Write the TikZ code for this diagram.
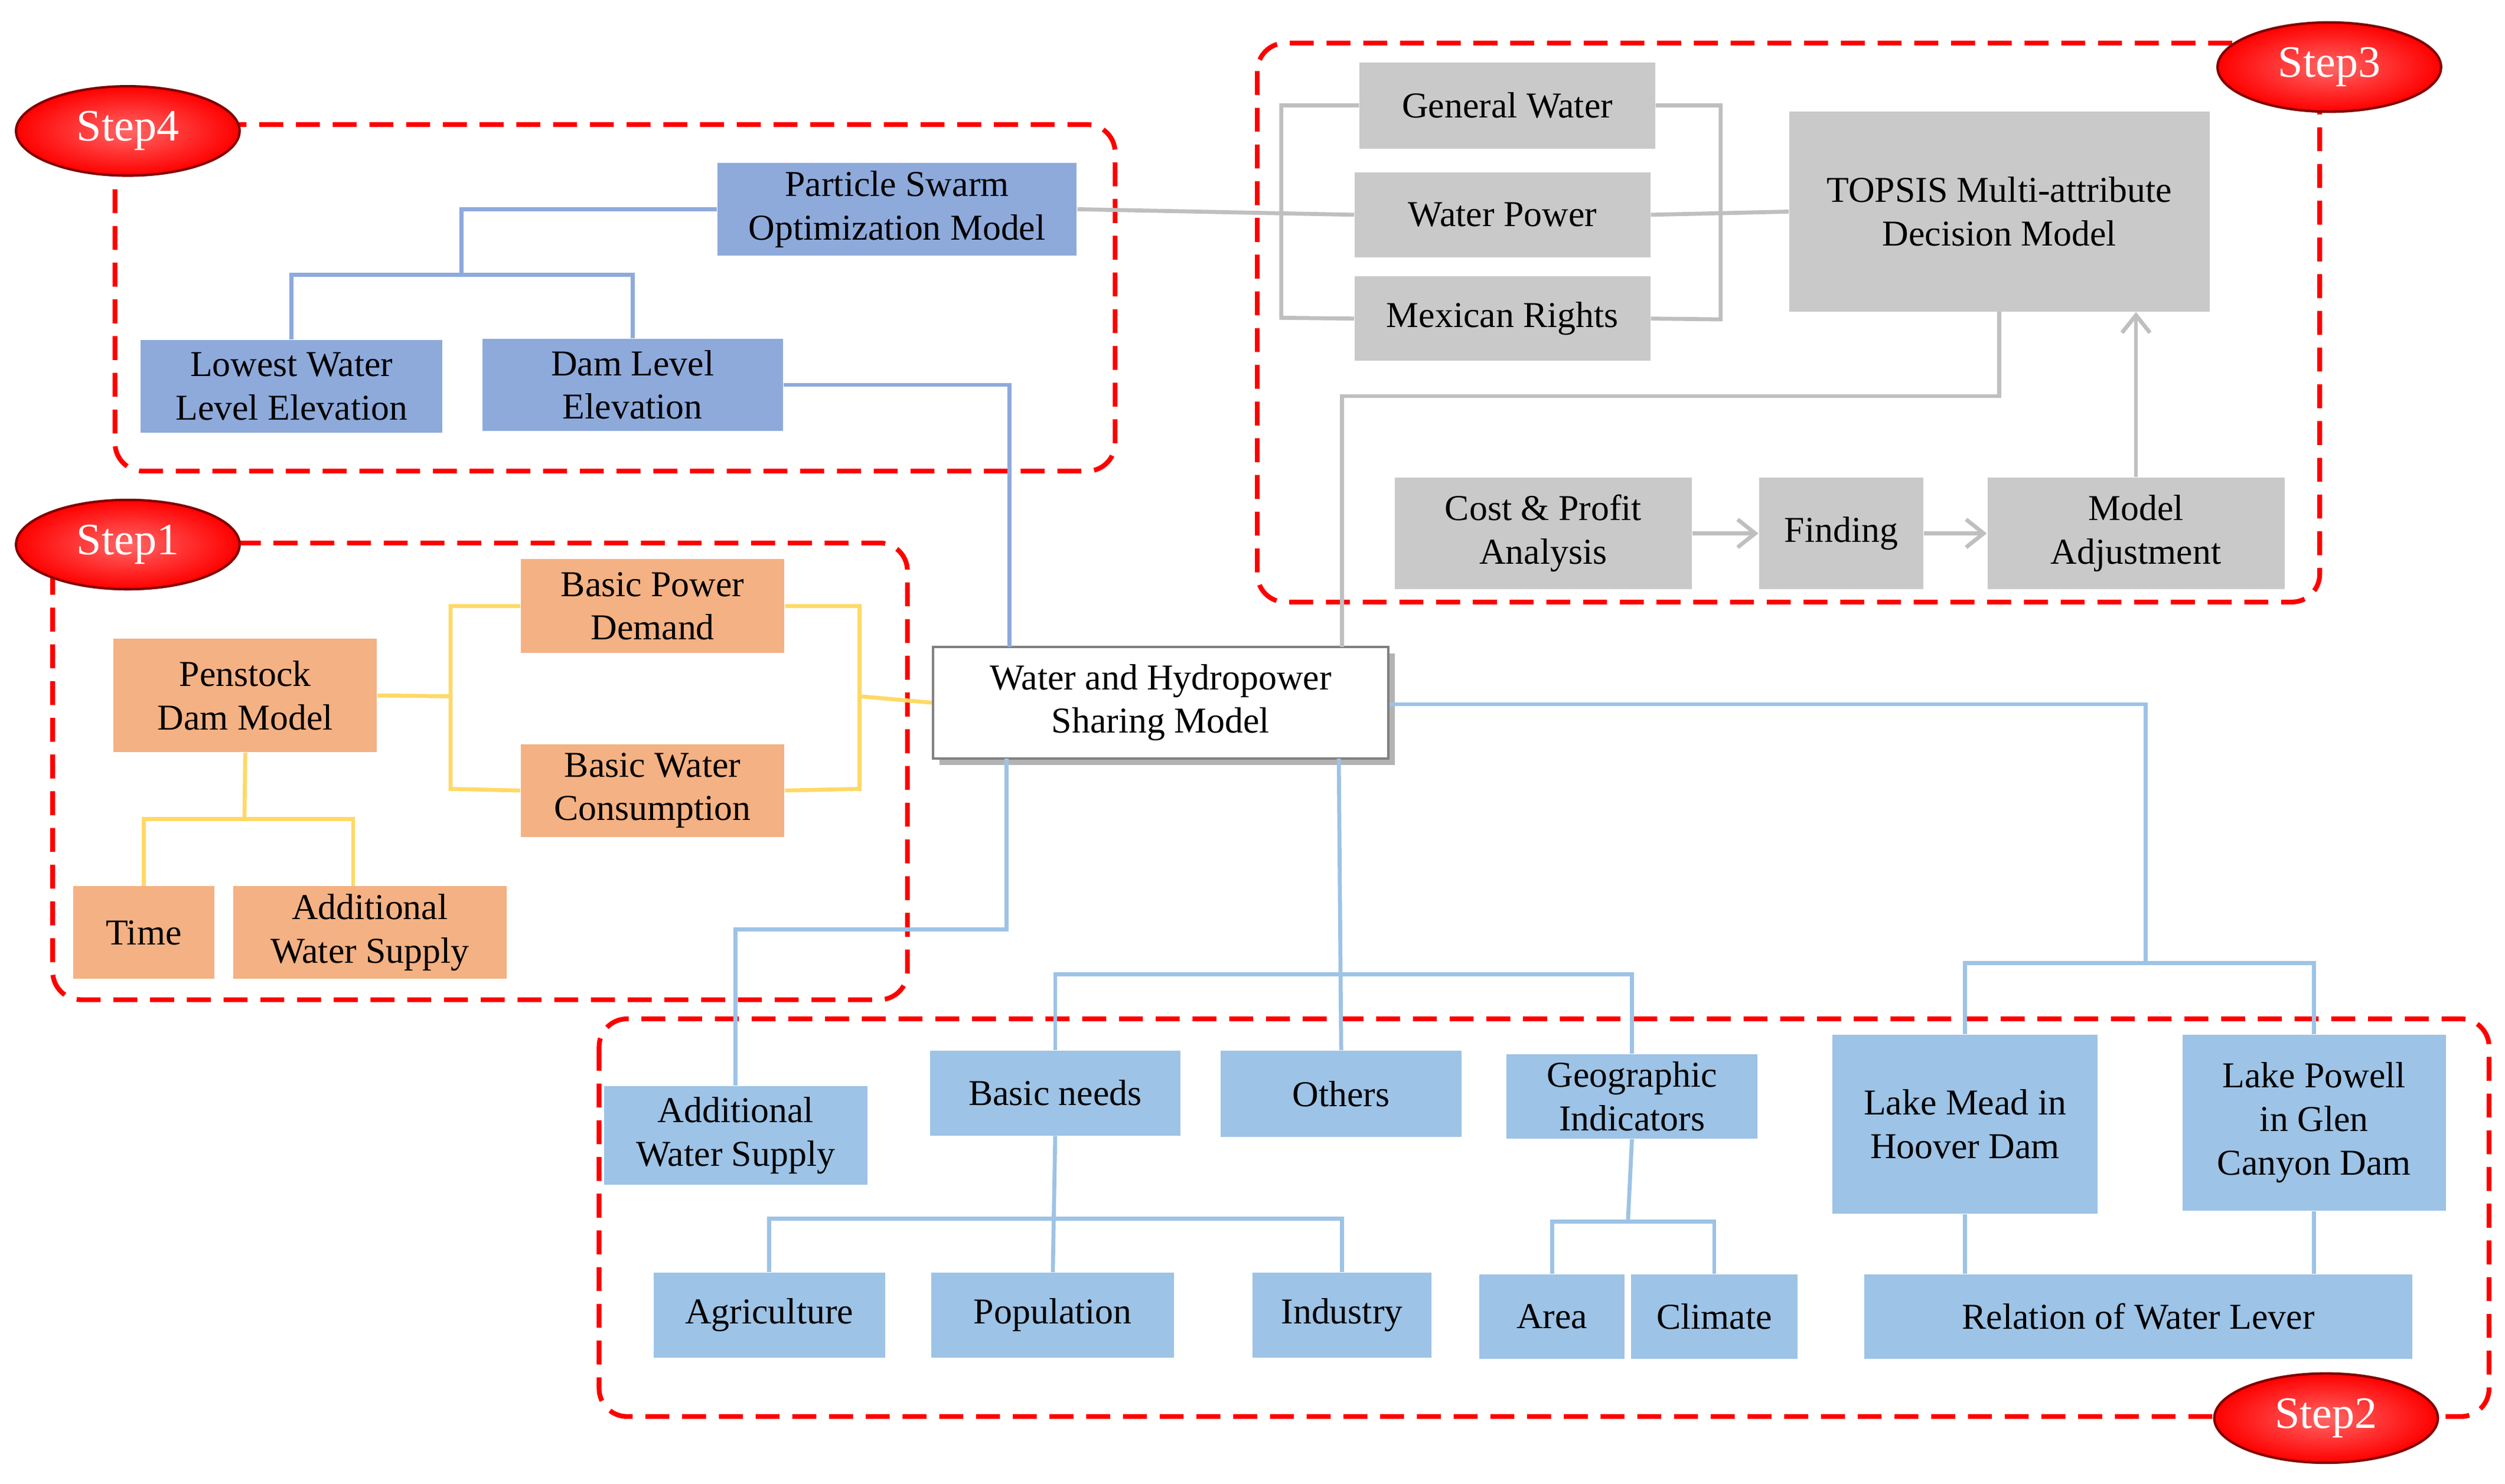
\documentclass[tikz,border=0pt]{standalone}
\usepackage{fontspec}
\setmainfont{Liberation Serif}
\usetikzlibrary{shadows,shapes.geometric,arrows.meta}
\definecolor{bblue}{HTML}{8EAADB}
\definecolor{lblue}{HTML}{9DC3E6}
\definecolor{org}{HTML}{F4B183}
\definecolor{gry}{HTML}{C9C9C9}
\definecolor{ylw}{HTML}{FFD966}
\definecolor{gline}{HTML}{BFBFBF}
\newcommand{\bx}[7]{\node[box,#6,minimum width={(#4-#2)*0.02cm},minimum height={(#5-#3)*0.02cm}] (#1) at ({(#2+#4)/2},{(#3+#5)/2}) {#7};}
\begin{document}
\begin{tikzpicture}[x=0.02cm,y=-0.02cm,
 box/.style={draw=none,inner sep=0pt,align=center,font=\fontsize{13}{15.5}\selectfont},
 reg/.style={draw=red,line width=0.06cm,dash pattern=on 0.3cm off 0.16cm,rounded corners=0.35cm},
 stp/.style={ellipse,draw=red!50!black,line width=0.03cm,inner color=red!60!white,outer color=red,text=white,minimum width=2.8cm,minimum height=1.12cm,font=\fontsize{16}{18}\selectfont},
 bl/.style={draw=lblue,line width=0.05cm},
 pl/.style={draw=bblue,line width=0.05cm},
 yl/.style={draw=ylw,line width=0.05cm},
 gl/.style={draw=gline,line width=0.05cm},
 ga/.style={gl,-{Straight Barb[length=0.22cm,width=0.35cm]}}]
\useasboundingbox (0,0) rectangle (1568,929);
% regions
\draw[reg] (72,78) rectangle (698,295);
\draw[reg] (787,27) rectangle (1452,377);
\draw[reg] (33,340) rectangle (568,626);
\draw[reg] (375,638) rectangle (1558,887);
% Step4
\bx{pso}{449}{102}{674}{160}{fill=bblue}{Particle Swarm\\Optimization Model}
\bx{low}{88}{213}{277}{271}{fill=bblue}{Lowest Water\\Level Elevation}
\bx{dam}{302}{212}{490}{270}{fill=bblue}{Dam Level\\Elevation}
% Step3
\bx{gw}{851}{39}{1036}{93}{fill=gry}{General Water}
\bx{wp}{848}{108}{1033}{161}{fill=gry}{Water Power}
\bx{mr}{848}{173}{1033}{226}{fill=gry}{Mexican Rights}
\bx{top}{1120}{70}{1383}{195}{fill=gry}{TOPSIS Multi-attribute\\Decision Model}
\bx{cp}{873}{299}{1059}{369}{fill=gry}{Cost \& Profit\\Analysis}
\bx{fi}{1101}{299}{1204}{369}{fill=gry}{Finding}
\bx{ma}{1244}{299}{1430}{369}{fill=gry}{Model\\Adjustment}
% Step1
\bx{pen}{71}{400}{236}{471}{fill=org}{Penstock\\Dam Model}
\bx{bp}{326}{350}{491}{409}{fill=org}{Basic Power\\Demand}
\bx{bw}{326}{466}{491}{524}{fill=org}{Basic Water\\Consumption}
\bx{ti}{46}{555}{134}{613}{fill=org}{Time}
\bx{aw1}{146}{555}{317}{613}{fill=org}{Additional\\Water Supply}
% center
\bx{wm}{584}{405}{869}{475}{fill=white,draw=gray,line width=0.03cm,drop shadow={opacity=0.6}}{Water and Hydropower\\Sharing Model}
% Step2
\bx{aw2}{378}{680}{543}{742}{fill=lblue}{Additional\\Water Supply}
\bx{bn}{582}{658}{739}{711}{fill=lblue}{Basic needs}
\bx{ot}{764}{658}{915}{712}{fill=lblue}{Others}
\bx{geo}{943}{660}{1100}{713}{fill=lblue}{Geographic\\Indicators}
\bx{lm}{1147}{648}{1313}{760}{fill=lblue}{Lake Mead in\\Hoover Dam}
\bx{lp}{1366}{648}{1531}{758}{fill=lblue}{Lake Powell\\in Glen\\Canyon Dam}
\bx{ag}{409}{797}{554}{850}{fill=lblue}{Agriculture}
\bx{po}{583}{797}{735}{850}{fill=lblue}{Population}
\bx{in}{784}{797}{896}{850}{fill=lblue}{Industry}
\bx{ar}{926}{798}{1017}{851}{fill=lblue}{Area}
\bx{cl}{1021}{798}{1125}{851}{fill=lblue}{Climate}
\bx{rw}{1167}{798}{1510}{851}{fill=lblue}{Relation of Water Lever}
% step labels
\node[stp] (s4) at (80,82) {Step4};
\node[stp] (s3) at (1458,42) {Step3};
\node[stp] (s1) at (80,341) {Step1};
\node[stp] (s2) at (1456,888) {Step2};
% Step4 lines
\coordinate (j4) at (289,172);
\draw[pl] (pso.west) -| (j4);
\draw[pl] (low.north) |- (j4) -| (dam.north);
\draw[pl] (dam.east) -| (632,405);
% Step3 lines
\draw[gl] (pso.east) -- (wp.west);
\draw[gl] (gw.west) -| (802,199) -- (mr.west);
\draw[gl] (gw.east) -| (1077,200) -- (mr.east);
\draw[gl] (wp.east) -- (top.west);
\draw[gl] (top.south) |- (840,248) -- (840,405);
\draw[ga] (cp.east) -- (fi.west);
\draw[ga] (fi.east) -- (ma.west);
\draw[ga] (ma.north) -- (top.south -| ma.north);
% Step1 lines
\draw[yl] (pen.east) -- (282,436);
\draw[yl] (bp.west) -| (282,494) -- (bw.west);
\draw[yl] (bp.east) -| (538,494) -- (bw.east);
\draw[yl] (538,436) -- (wm.west);
\draw[yl] (pen.south) -- (153,513);
\draw[yl] (ti.north) |- (153,513) -| (221,555);
% Step2 lines
\draw[bl] (630,475) -- (630,582) -| (aw2.north);
\draw[bl] (838,475) -- (ot.north);
\draw[bl] (bn.north) |- (838,610) -| (geo.north);
\draw[bl] (wm.east |- 0,441) -| (1343,603);
\draw[bl] (lm.north) |- (1343,603) -| (lp.north);
\draw[bl] (bn.south) -- (po.north);
\draw[bl] (ag.north) |- (660,763) -| (in.north);
\draw[bl] (geo.south) -- (1019,765);
\draw[bl] (ar.north) |- (1019,765) -| (cl.north);
\draw[bl] (lm.south) -- (lm.south |- rw.north);
\draw[bl] (lp.south) -- (lp.south |- rw.north);
\end{tikzpicture}
\end{document}
